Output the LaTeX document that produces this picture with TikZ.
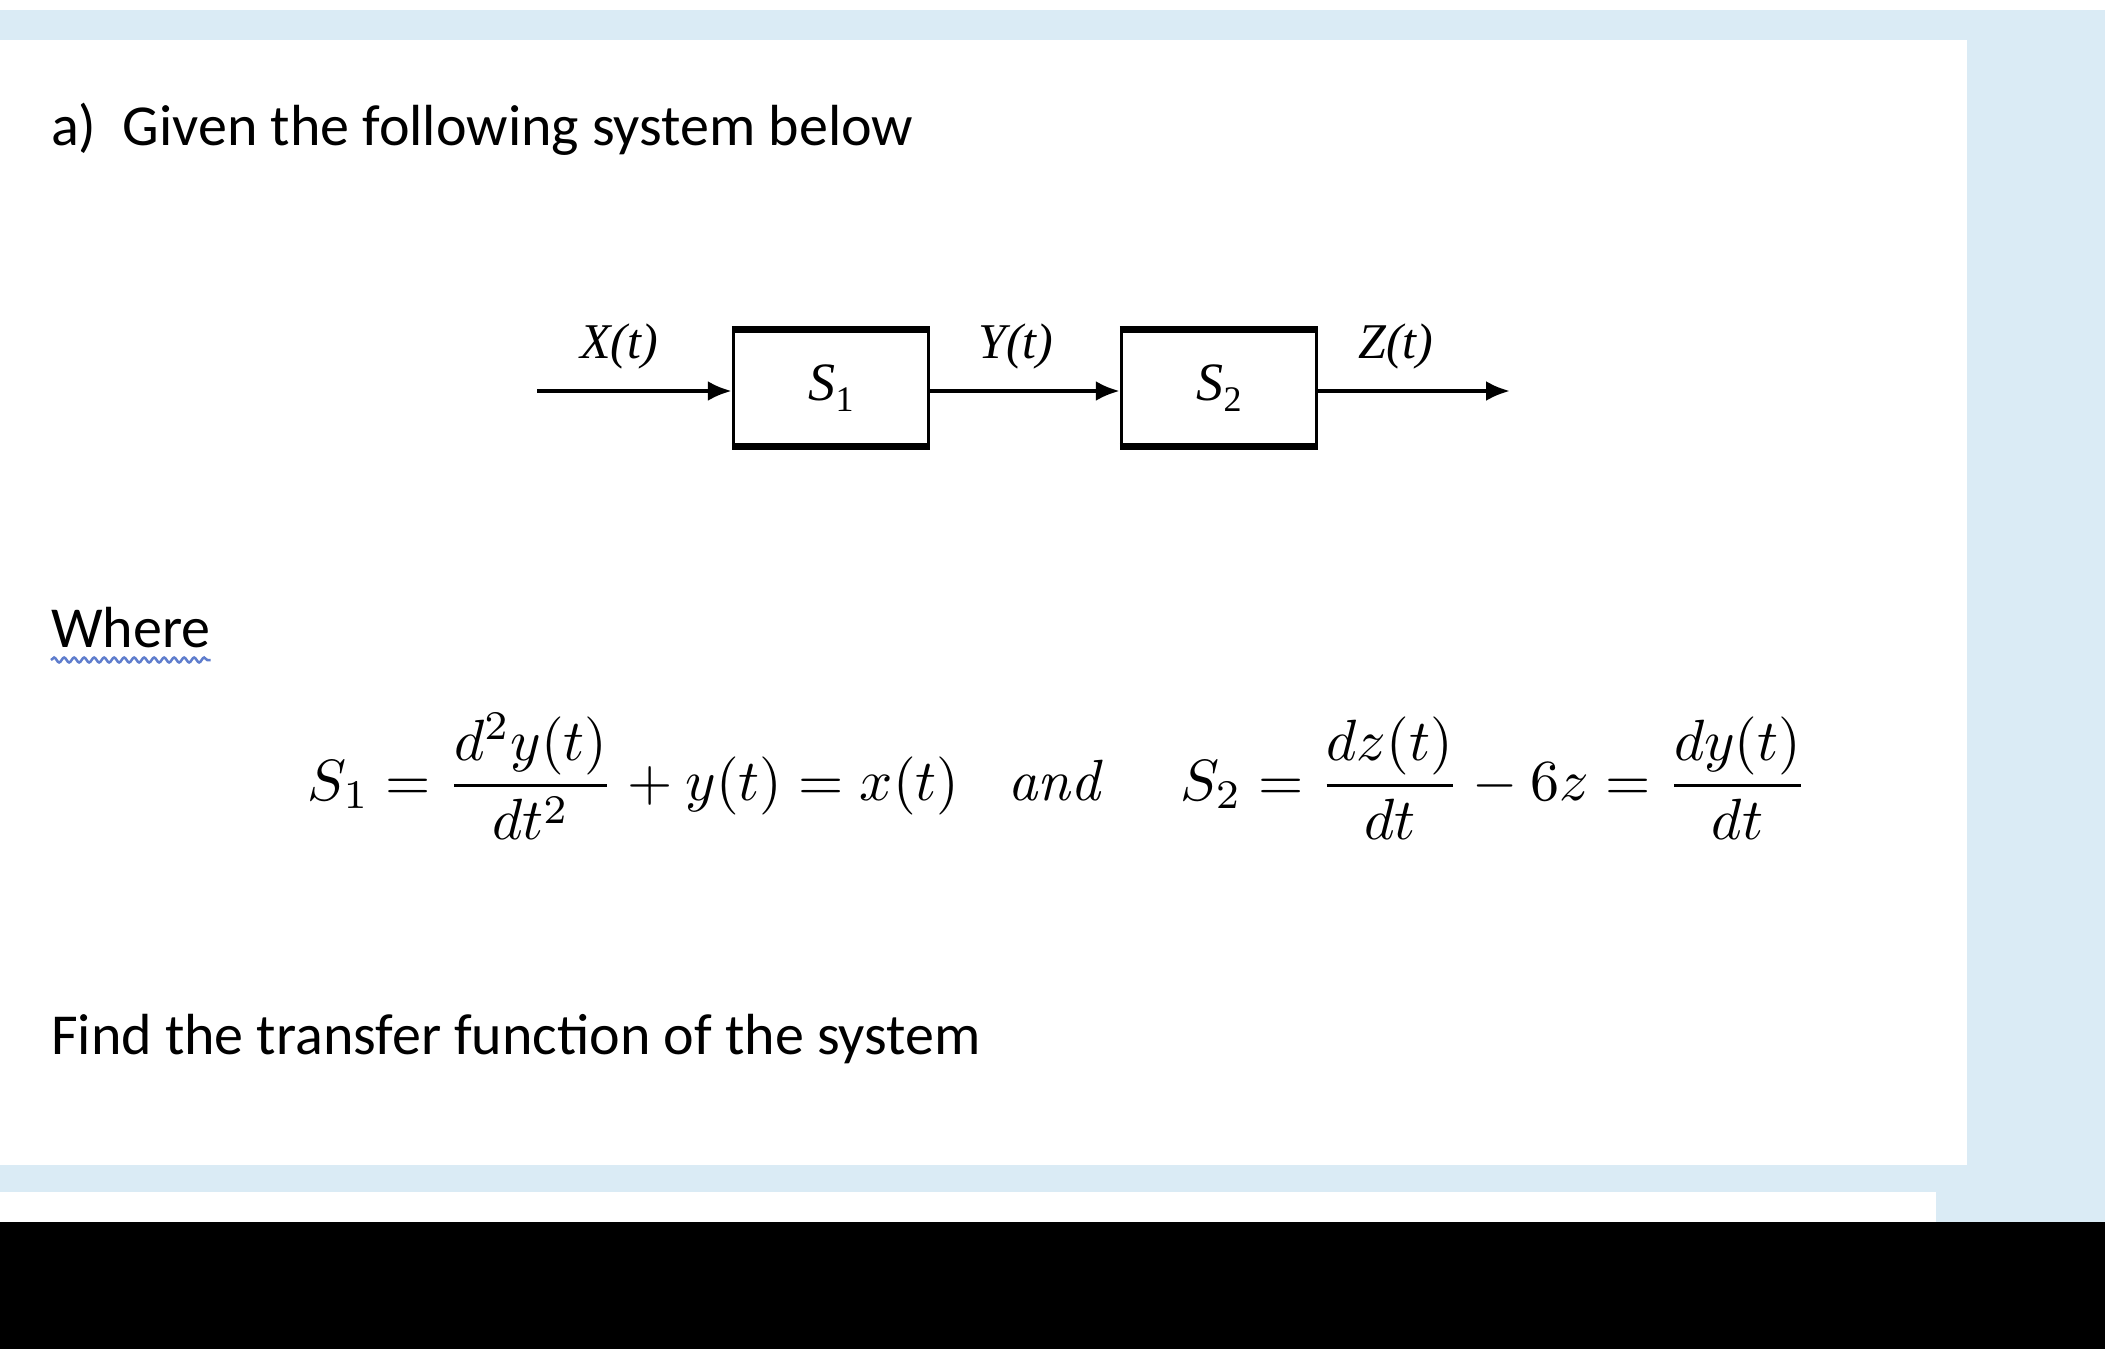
\documentclass[tikz,border=0pt]{standalone}
\usepackage[no-math]{fontspec}
\usepackage{amsmath}
\usepackage{graphicx}
\setmainfont{Carlito}
\newfontfamily\tmsfont{Liberation Serif}
\usetikzlibrary{
    arrows.meta,
    positioning,
    decorations.pathmorphing
}
\definecolor{paneblue}{RGB}{218,235,245}
\definecolor{squiggle}{RGB}{95,125,205}

\begin{document}
\begin{tikzpicture}[x=1pt,y=-1pt,
    blk/.style={draw,line width=3.5pt,minimum width=195pt,minimum height=113pt,inner sep=0pt,
                font=\tmsfont\itshape\fontsize{54}{54}\selectfont},
    sig/.style={line width=4pt,-{Latex[length=24pt,width=20pt]}},
    lbl/.style={font=\tmsfont\itshape\fontsize{50}{50}\selectfont,inner sep=0pt},
    txt/.style={anchor=base west,inner sep=0pt,font=\fontsize{58}{70}\selectfont}]
                        % page background
                        \fill[black] (0,0) rectangle (2105,1349);
                        \fill[white] (0,0) rectangle (2105,1222);
                        \fill[paneblue] (0,10) rectangle (2105,1222);
                        \fill[white] (0,40) rectangle (1967,1165);
                        \fill[white] (0,1192) rectangle (1936,1222);
                        \useasboundingbox (0,0) rectangle (2105,1349);

                        \node[txt] (head) at (51,145) {a)\ \ Given the following system below};

                        \node[blk] (s1) at (831,388) {S\raisebox{-.45ex}{\upshape\fontsize{36}{36}\selectfont 1}};
                        \node[blk] (s2) at (1219,388) {S\raisebox{-.45ex}{\upshape\fontsize{36}{36}\selectfont 2}};
                        \coordinate (in) at (537,391);
                        \coordinate (out) at (1510,391);

                        % heavier top and bottom edges
                        \draw[line width=7pt]
                        (s1.north west) -- (s1.north east)
                        (s1.south west) -- (s1.south east)
                        (s2.north west) -- (s2.north east)
                        (s2.south west) -- (s2.south east);

                        \node[lbl] (xt) at (619,346) {X(t)};
                        \node[lbl] (yt) at (1016,346) {Y(t)};
                        \node[lbl] (zt) at (1396,346) {Z(t)};

                        \draw[sig] (in) -- (in -| s1.west);
                        \draw[sig] (in -| s1.east) -- (in -| s2.west);
                        \draw[sig] (in -| s2.east) -- (out);

                        \node[txt] (where) at (51,647) {Where};
                        \draw[squiggle,line width=2.5pt,decorate,decoration={snake,amplitude=2.5pt,segment length=10pt}]
                        ([yshift=-13pt]where.base west) -- ([yshift=-13pt]where.base east);

                        \node[anchor=base,inner sep=0pt] (eq) at (1058,800)
                        {\resizebox{1500pt}{!}{$S_1 = \dfrac{d^2y(t)}{dt^2} + y(t) = x(t) \;\;\; \mathit{and} \quad\; S_2 = \dfrac{dz(t)}{dt} - 6z = \dfrac{dy(t)}{dt}$}};

                        \node[txt] (task) at (51,1054) {Find the transfer function of the system};
                    \end{tikzpicture}
\end{document}
